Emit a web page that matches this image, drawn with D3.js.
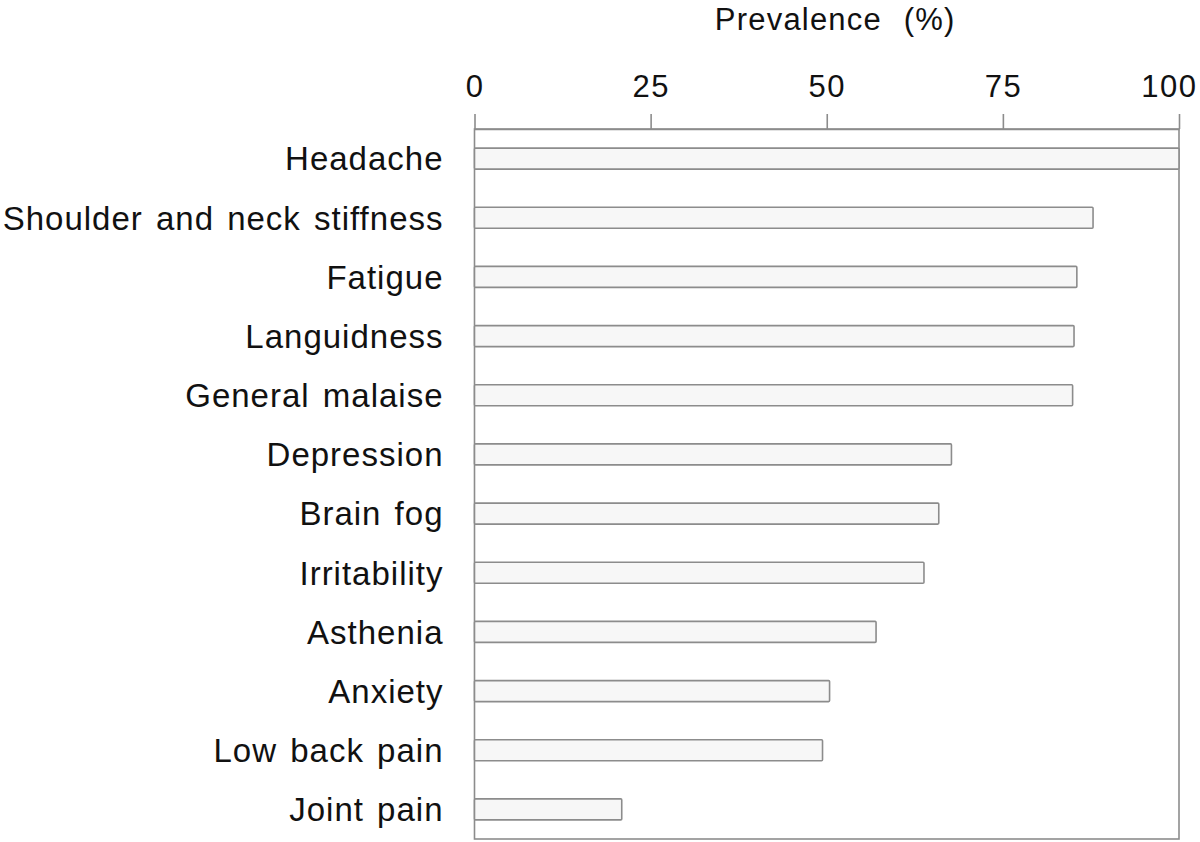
<!DOCTYPE html>
<html>
<head>
<meta charset="utf-8">
<script src="https://cdn.jsdelivr.net/npm/d3@7"></script>
<style>
    body { margin: 0; background: #fff; }
    #vis { width: 1200px; height: 842px; }
    text { font-family: "Liberation Sans", Arial, sans-serif; fill: #111; }
</style>
</head>
<body>
<div id="vis"></div>
<script>
var symptoms = ['Headache', 'Shoulder and neck stiffness', 'Fatigue', 'Languidness',
    'General malaise', 'Depression', 'Brain fog', 'Irritability', 'Asthenia',
    'Anxiety', 'Low back pain', 'Joint pain'];
var prevalence = [100, 87.8, 85.5, 85.1, 84.9, 67.7, 65.9, 63.8, 57.0, 50.4, 49.4, 20.9];
var tick_values = [0, 25, 50, 75, 100];

var width = 1200;
var height = 842;

var margin = {
    top: 129,
    bottom: 3,
    left: 474.5,
    right: 21
};

var svg = d3.select('#vis')
    .append('svg')
    .attr('width', width)
    .attr('height', height)
    .append('g')
    .attr('transform', 'translate(' + margin.left + ',' + margin.top + ')');

width = width - margin.left - margin.right;
height = height - margin.top - margin.bottom;

var data = symptoms.map(function(s, i) {
    return { name: s, value: prevalence[i] };
});

var x_scale = d3.scaleLinear()
    .domain([0, 100])
    .range([0, width]);

var y_scale = d3.scaleBand()
    .domain(symptoms)
    .range([0, height])
    .paddingInner(0.645)
    .paddingOuter(0.3225);

// frame
svg.append('rect')
    .attr('x', 0)
    .attr('y', 0)
    .attr('width', width)
    .attr('height', height)
    .attr('fill', 'none')
    .attr('stroke', '#8c8c8c')
    .attr('stroke-width', 1.6);

// bars
svg.selectAll('.bar')
    .data(data)
    .enter()
    .append('rect')
    .attr('class', 'bar')
    .attr('x', 0)
    .attr('y', function(d) { return y_scale(d.name); })
    .attr('width', function(d) { return x_scale(d.value); })
    .attr('height', y_scale.bandwidth())
    .attr('rx', 1)
    .attr('fill', '#f7f7f7')
    .attr('stroke', '#8c8c8c')
    .attr('stroke-width', 1.6);

// top axis
var x_axis = d3.axisTop(x_scale)
    .tickValues(tick_values)
    .tickSize(15)
    .tickSizeOuter(0)
    .tickPadding(17);

var gx = svg.append('g')
    .attr('class', 'x axis')
    .call(x_axis);

gx.select('.domain').attr('stroke', '#8c8c8c').attr('stroke-width', 1.6);
gx.selectAll('.tick line').attr('stroke', '#8c8c8c').attr('stroke-width', 1.6);
gx.selectAll('.tick text')
    .attr('font-size', 31)
    .attr('letter-spacing', 1.5)
    .style('font-family', '"Liberation Sans", Arial, sans-serif')
    .attr('fill', '#111');
// keep the last label inside the picture
gx.selectAll('.tick text')
    .filter(function(d) { return d === 100; })
    .attr('text-anchor', 'end')
    .attr('dx', 18);

// category labels
svg.selectAll('.label')
    .data(data)
    .enter()
    .append('text')
    .attr('class', 'label')
    .attr('x', -31)
    .attr('y', function(d) { return y_scale(d.name) + y_scale.bandwidth() / 2; })
    .attr('dy', '0.36em')
    .attr('text-anchor', 'end')
    .attr('font-size', 33)
    .attr('letter-spacing', 1)
    .attr('word-spacing', 3)
    .text(function(d) { return d.name; });

// axis title
svg.append('text')
    .attr('x', x_scale(51.2))
    .attr('y', -99)
    .attr('text-anchor', 'middle')
    .attr('font-size', 31)
    .attr('letter-spacing', 1.2)
    .attr('word-spacing', 12)
    .text('Prevalence (%)');
</script>
</body>
</html>
